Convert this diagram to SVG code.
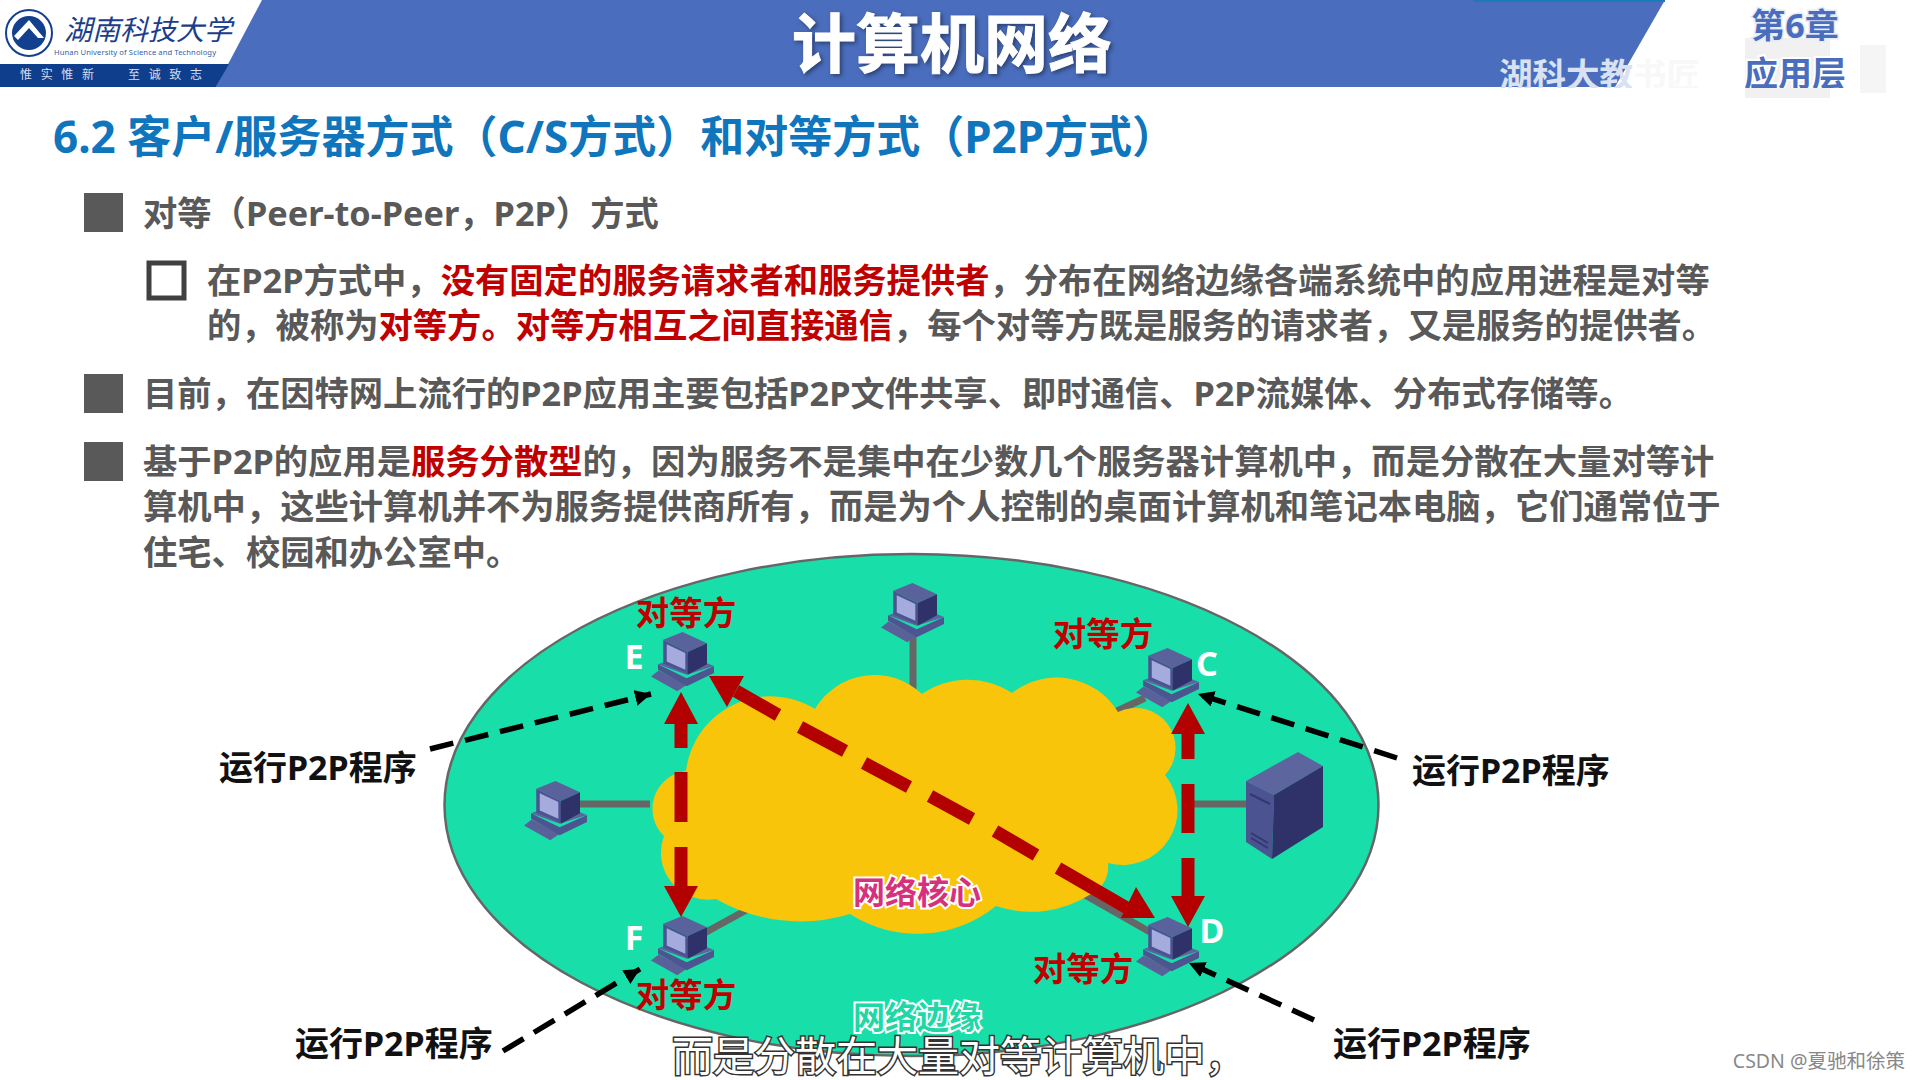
<svg xmlns="http://www.w3.org/2000/svg" width="1920" height="1080" viewBox="0 0 1920 1080">
<style>
text{font-family:"Noto Sans","Noto Sans CJK SC","Liberation Sans",sans-serif}
.b{font-size:34.3px;font-weight:700;fill:#595959}
.r{fill:#C00000}
.run{font-size:34px;font-weight:700;fill:#111}
.peer{font-size:33.5px;font-weight:700;fill:#C00000;text-anchor:middle}
.let{font-size:34px;font-weight:700;fill:#fff;text-anchor:middle}
.wire{stroke:#666;stroke-width:7;fill:none}
.red{stroke:#B30000;stroke-width:13;fill:none}
.blk{stroke:#000;stroke-width:5.5;fill:none;stroke-dasharray:24 12}
.bul{fill:#595959}
.head{fill:#B30000}
</style>
<defs>
<marker id="bh" markerUnits="userSpaceOnUse" markerWidth="18" markerHeight="18" refX="16" refY="8" orient="auto"><polygon points="0,0 16,8 0,16" fill="#000"/></marker>
<g id="pc" transform="scale(.35)">
<polygon points="0,127 22,110 100,152 75,169" fill="#5A6199"/>
<polygon points="20,92 102,132 180,97 180,117 102,155 20,108" fill="#4C5590"/>
<polygon points="20,92 102,122 180,97 100,65" fill="#5D659F"/>
<polygon points="35,22 90,0 160,32 105,57" fill="#5A629C"/>
<polygon points="35,22 105,57 105,120 35,90" fill="#4B5391"/>
<polygon points="45,35 98,60 98,108 45,84" fill="#A5ABDC"/>
<polygon points="105,57 160,32 160,92 105,122" fill="#2E3268"/>
</g>
</defs>
<rect width="1920" height="1080" fill="#fff"/>
<g id="header">
<polygon points="262,0 1665,0 1615,87 216,87" fill="#4A6EBD"/>
<rect x="1473" y="0" width="192" height="2" fill="#1A7BB8"/>
<polygon points="0,64 229,64 216,87 0,87" fill="#0F3F8C"/>
<circle cx="29" cy="33" r="23" fill="#fff" stroke="#123F8E" stroke-width="2"/>
<circle cx="29" cy="33" r="17" fill="#123F8E"/>
<polygon points="14,36 29,20 44,38 38,38 29,28 18,40" fill="#fff"/>
<text x="64" y="40" font-size="28" font-style="italic" fill="#1B3E8C" textLength="168">湖南科技大学</text>
<text x="54" y="55" font-size="7.6" fill="#2F5FA8" textLength="162">Hunan University of Science and Technology</text>
<text x="20" y="79" font-size="12" fill="#D5DDEE" textLength="74">惟实惟新</text>
<text x="128" y="79" font-size="12" fill="#D5DDEE" textLength="74">至诚致志</text>
<text x="952" y="67" font-size="64" font-weight="700" text-anchor="middle" fill="#fff" stroke="#fff" stroke-width="1" style="filter:drop-shadow(2px 2px 2px #2a3f70)">计算机网络</text>
<clipPath id="hc"><rect x="1400" y="0" width="520" height="88"/></clipPath>
<rect x="1745" y="38" width="85" height="60" fill="#F1F1F1"/>
<rect x="1860" y="45" width="26" height="48" fill="#F5F5F5"/>
<g clip-path="url(#hc)">
<text x="1499" y="87" font-size="33.5" font-weight="700" fill="#D9E2F3">湖科大教<tspan fill="#F8F8F8">书匠</tspan></text>
<text x="1795" y="86" font-size="34" font-weight="700" text-anchor="middle" fill="#4A6EBD" stroke="#fff" stroke-width="4" paint-order="stroke">应用层</text>
</g>
<text x="1795" y="38" font-size="34" font-weight="700" text-anchor="middle" fill="#4A6EBD" stroke="#E8ECF5" stroke-width="3" paint-order="stroke">第6章</text>
</g>
<g id="content">
<text x="53" y="153" font-size="44" font-weight="700" fill="#0F75BC">6.2 客户/服务器方式（C/S方式）和对等方式（P2P方式）</text>
<rect class="bul" x="84" y="193" width="39" height="39"/>
<rect x="149" y="263" width="35" height="35" fill="#fff" stroke="#404040" stroke-width="5"/>
<rect class="bul" x="84" y="374" width="39" height="39"/>
<rect class="bul" x="84" y="442" width="39" height="39"/>
<text class="b" x="143" y="226">对等（Peer-to-Peer，P2P）方式</text>
<text class="b" x="207" y="293">在P2P方式中，<tspan class="r">没有固定的服务请求者和服务提供者</tspan>，分布在网络边缘各端系统中的应用进程是对等</text>
<text class="b" x="207" y="338">的，被称为<tspan class="r">对等方。对等方相互之间直接通信</tspan>，每个对等方既是服务的请求者，又是服务的提供者。</text>
<text class="b" x="143" y="406">目前，在因特网上流行的P2P应用主要包括P2P文件共享、即时通信、P2P流媒体、分布式存储等。</text>
<text class="b" x="143" y="474">基于P2P的应用是<tspan class="r">服务分散型</tspan>的，因为服务不是集中在少数几个服务器计算机中，而是分散在大量对等计</text>
<text class="b" x="143" y="519">算机中，这些计算机并不为服务提供商所有，而是为个人控制的桌面计算机和笔记本电脑，它们通常位于</text>
<text class="b" x="143" y="565">住宅、校园和办公室中。</text>
</g>
<g id="network-edge"><ellipse cx="911.5" cy="805" rx="467" ry="251" fill="#18DFA9" stroke="#666" stroke-width="2.5"/></g>
<g id="connectors">
<line class="wire" x1="580" y1="804" x2="650" y2="804"/>
<line class="wire" x1="913" y1="635" x2="913" y2="695"/>
<line class="wire" x1="699" y1="936" x2="750" y2="908"/>
<line class="wire" x1="1115" y1="712" x2="1145" y2="698"/>
<line class="wire" x1="1185" y1="804" x2="1246" y2="804"/>
<line class="wire" x1="1085" y1="895" x2="1150" y2="932"/>
</g>
<g id="network-core"><path d="M686 771A85 85 0 0 1 815 709A69 69 0 0 1 922 694A80 80 0 0 1 1012 693A72 72 0 0 1 1118 712A40 40 0 0 1 1165 775A55 55 0 0 1 1108 863A30 30 0 0 1 1091 894A110 110 0 0 1 996 906A125 125 0 0 1 850 914A170 170 0 0 1 716 899A47 47 0 0 1 664 836A38 38 0 0 1 686 771Z" fill="#F9C50A"/>
<text x="917" y="904" font-size="32" font-weight="700" text-anchor="middle" fill="#D6317D" stroke="#fff" stroke-width="4" paint-order="stroke">网络核心</text></g>
<g id="node-E"><use href="#pc" transform="translate(651,632)"/><text class="let" x="634" y="669">E</text><text class="peer" x="686" y="625">对等方</text></g>
<g id="node-top"><use href="#pc" transform="translate(881,583)"/></g>
<g id="node-C"><use href="#pc" transform="translate(1136,648)"/><text class="let" x="1207" y="676">C</text><text class="peer" x="1103" y="646">对等方</text></g>
<g id="node-left"><use href="#pc" transform="translate(524,781)"/></g>
<g id="node-F"><use href="#pc" transform="translate(651,916)"/><text class="let" x="634" y="950">F</text><text class="peer" x="686" y="1007">对等方</text></g>
<g id="node-D"><use href="#pc" transform="translate(1136,917)"/><text class="let" x="1212" y="943">D</text><text class="peer" x="1083" y="981">对等方</text></g>
<g id="server">
<polygon points="1246,781 1298,752 1323,766 1274,795" fill="#5D659F"/>
<polygon points="1246,781 1274,795 1272,859 1246,842" fill="#4B5391"/>
<polygon points="1274,795 1323,766 1323,827 1272,859" fill="#2E3268"/>
<path d="M1250 794L1270 804M1251 833L1268 843M1251 838L1268 848" stroke="#33386F" stroke-width="2" fill="none"/>
</g>
<g id="arrows">
<path class="red" d="M681 724V748M681 772V822M681 847V890"/>
<polygon class="head" points="681,692 698,724 664,724"/>
<polygon class="head" points="681,917 698,886 664,886"/>
<polygon class="head" points="1188,703 1205,734 1171,734"/>
<polygon class="head" points="1188,927 1205,896 1171,896"/>
<path class="red" d="M1188 734V759M1188 784V833M1188 858V896"/>
<path class="red" d="M736 691L778 715M800 727L845 751M864 763L909 787M930 796L972 819M995 831L1036 855M1058 868L1127 908"/>
<polygon class="head" points="709,676 744,676 727,707"/>
<polygon class="head" points="1155,918 1136,887 1121,918"/>
<line class="blk" x1="430" y1="749" x2="651" y2="694" marker-end="url(#bh)"/>
<line class="blk" x1="1397" y1="758" x2="1198" y2="694" marker-end="url(#bh)"/>
<line class="blk" x1="503" y1="1051" x2="640" y2="969" marker-end="url(#bh)"/>
<line class="blk" x1="1314" y1="1020" x2="1189" y2="963" marker-end="url(#bh)"/>
</g>
<g id="labels">
<text class="run" x="219" y="780">运行P2P程序</text>
<text class="run" x="1412" y="783">运行P2P程序</text>
<text class="run" x="295" y="1056">运行P2P程序</text>
<text class="run" x="1333" y="1056">运行P2P程序</text>
<text x="917" y="1029" font-size="32" font-weight="700" text-anchor="middle" fill="#20D8A6" stroke="#fff" stroke-width="4" paint-order="stroke">网络边缘</text>
<text x="672" y="1071" font-size="41" fill="#fff" stroke="#333" stroke-width="3" paint-order="stroke">而是分散在大量对等计算机中，</text>
<text x="1905" y="1068" font-size="19.5" text-anchor="end" fill="#888">CSDN @夏驰和徐策</text>
</g>
</svg>
